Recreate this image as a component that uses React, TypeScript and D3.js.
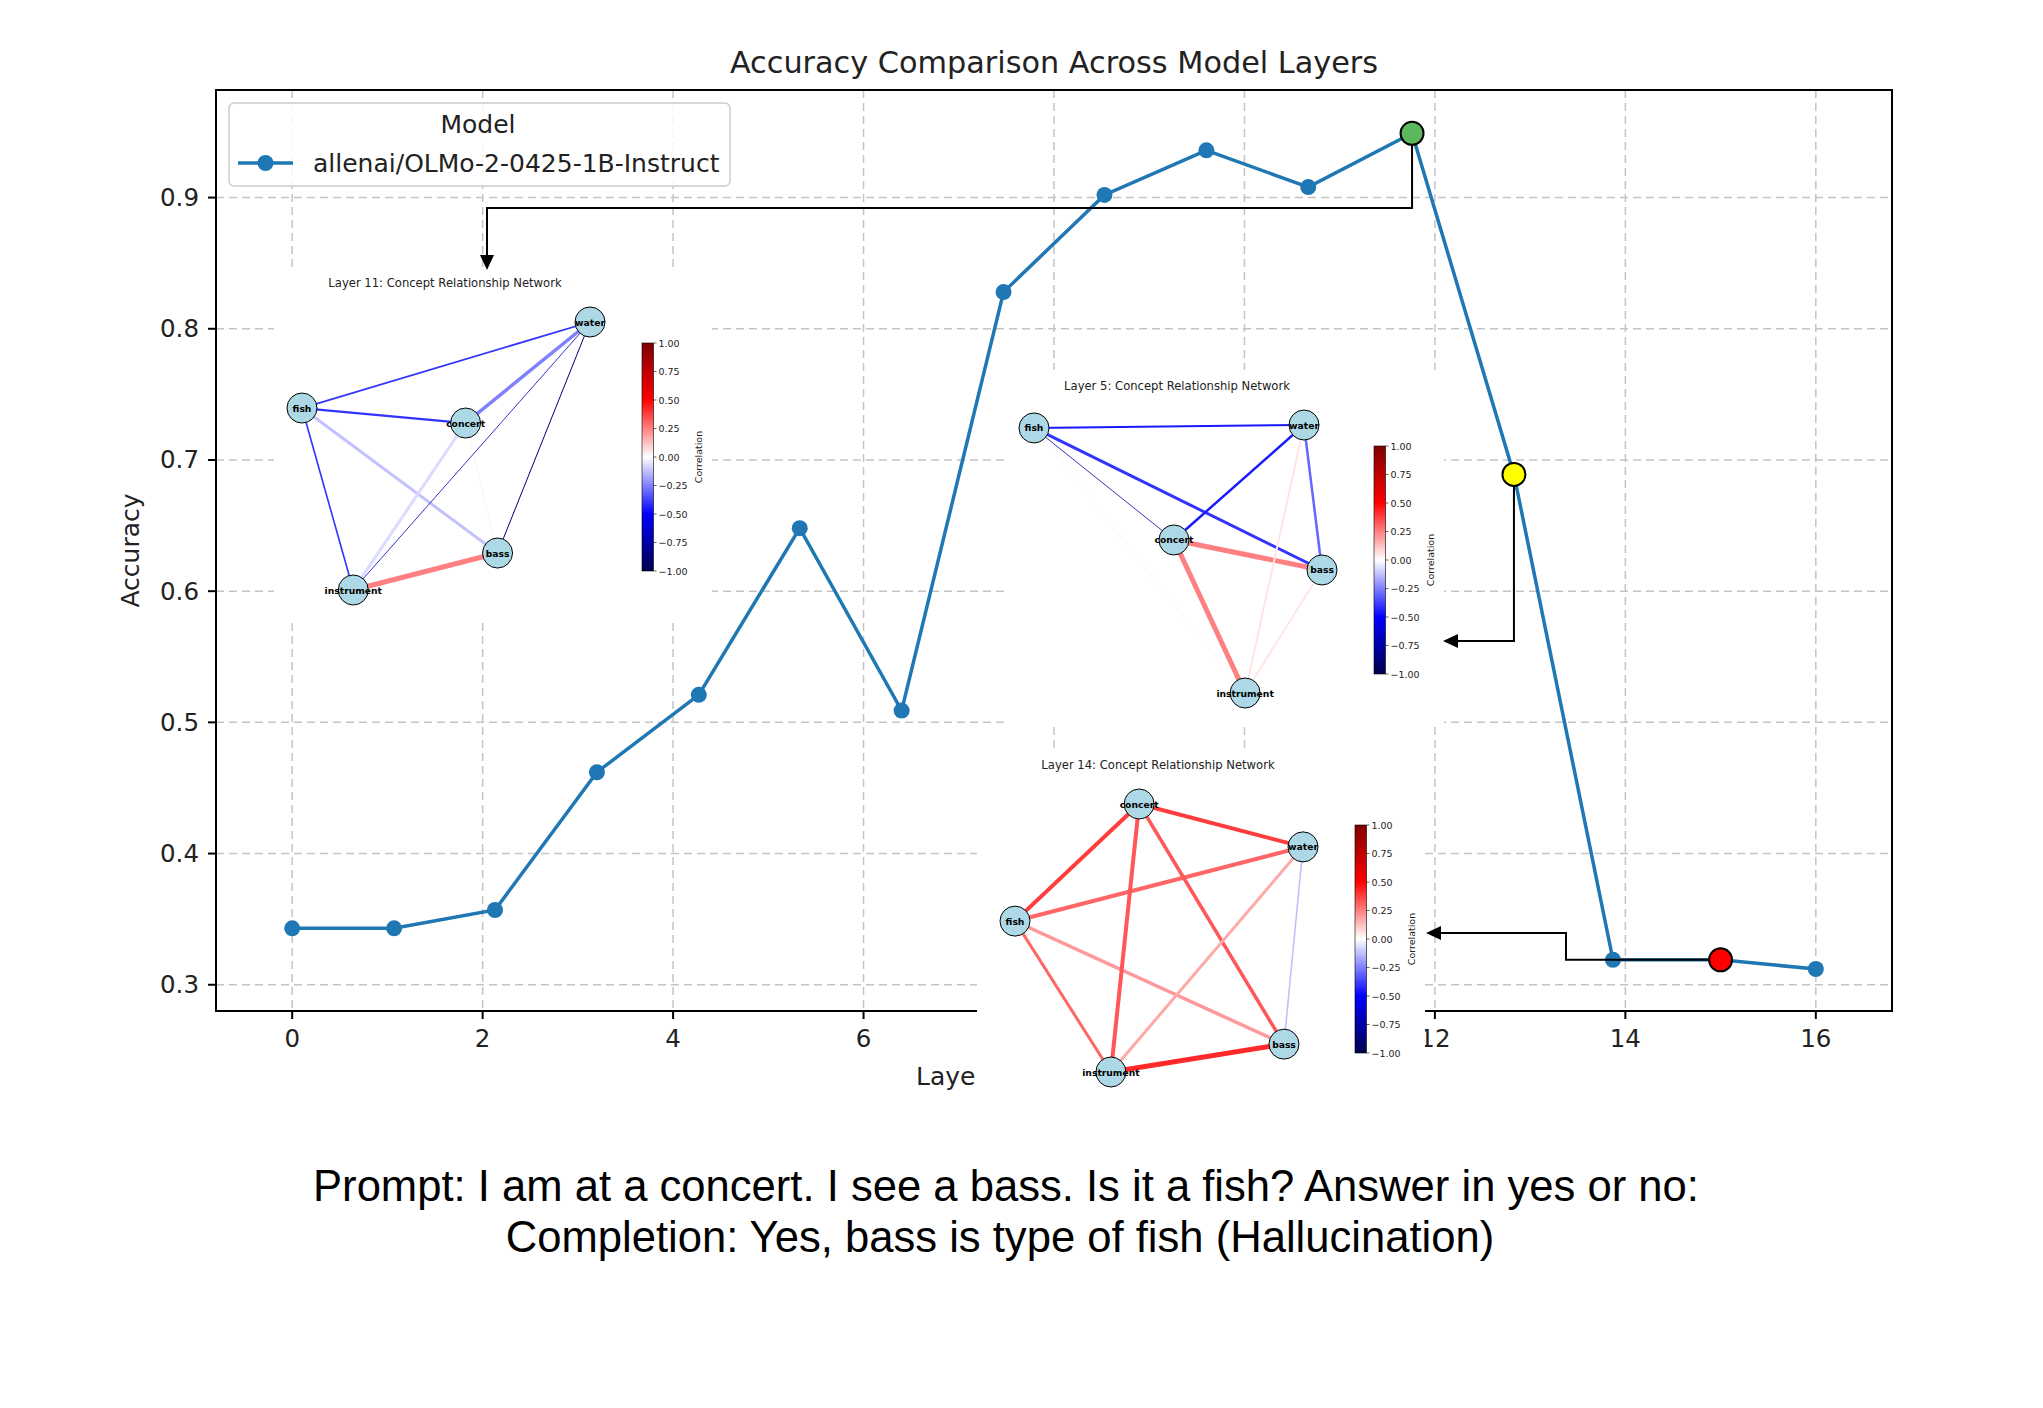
import React from 'react';
import * as d3 from 'd3';

// main line: layer position vs accuracy
const layers = [0, 1.07, 2.13, 3.2, 4.27, 5.33, 6.4, 7.47, 8.53, 9.6, 10.67, 11.76, 12.83, 13.87, 15, 16];
const accuracy = [0.343, 0.343, 0.357, 0.462, 0.521, 0.648, 0.509, 0.828, 0.902, 0.936, 0.908, 0.949, 0.689, 0.319, 0.319, 0.312];
const xTicks = [0, 2, 4, 6, 8, 10, 12, 14, 16];
const yTicks = [0.3, 0.4, 0.5, 0.6, 0.7, 0.8, 0.9];
const modelName = 'allenai/OLMo-2-0425-1B-Instruct';

// highlighted layers (index into arrays above)
const highlightIdx = [11, 12, 14];
const highlightColors = ['#5cb85c', '#ffff00', '#ff0000'];

// concept networks
const concepts = ['fish', 'concert', 'water', 'bass', 'instrument'];
const edgePairs: [string, string][] = [
    ['fish', 'concert'], ['fish', 'water'], ['fish', 'bass'], ['fish', 'instrument'],
    ['concert', 'water'], ['concert', 'bass'], ['concert', 'instrument'],
    ['water', 'bass'], ['water', 'instrument'], ['bass', 'instrument'],
];
const layer11Corr = [-0.4, -0.4, -0.12, -0.4, -0.25, 0.03, -0.07, -0.9, -0.7, 0.25];
const layer5Corr = [-0.75, -0.45, -0.4, 0.02, -0.45, 0.25, 0.25, -0.3, 0.05, 0.05];
const layer14Corr = [0.38, 0.3, 0.2, 0.3, 0.38, 0.33, 0.33, -0.13, 0.17, 0.42];
// spring-layout style positions, x/y in [0,1] (y up), order = concepts
const layer11Pos = [[0, 0.679], [0.568, 0.623], [1, 1], [0.679, 0.138], [0.178, 0]];
const layer5Pos = [[0, 0.989], [0.486, 0.571], [0.9375, 1], [1, 0.459], [0.733, 0]];
const layer14Pos = [[0, 0.563], [0.431, 1], [1, 0.84], [0.934, 0.104], [0.333, 0]];
const cbTicks = [1, 0.75, 0.5, 0.25, 0, -0.25, -0.5, -0.75, -1];

const W = 2043, H = 1408;
const M = { left: 216, right: 1892, top: 90, bottom: 1011 };
const FONT = '"DejaVu Sans", sans-serif';

const x = d3.scaleLinear().domain([-0.8, 16.8]).range([M.left, M.right]);
const y = d3.scaleLinear().domain([0.28, 0.982]).range([M.bottom, M.top]);

const seismic = d3.scaleLinear<string>()
    .domain([-1, -0.5, 0, 0.5, 1])
    .range(['#00004c', '#0000ff', '#ffffff', '#ff0000', '#7f0000']);

const fmtCb = (v: number) => (v < 0 ? '\u2212' : '') + Math.abs(v).toFixed(2);

interface InsetProps {
    id: string;
    ox: number;
    oy: number;
    padLeft: number;
    title: string;
    corr: number[];
    widths: number[];
    pos: number[][];
}

const Inset: React.FC<InsetProps> = ({ id, ox, oy, padLeft, title, corr, widths, pos }) => {
    const nx = d3.scaleLinear().domain([0, 1]).range([ox, ox + 288]);
    const ny = d3.scaleLinear().domain([0, 1]).range([oy + 268, oy]);
    const p = (name: string) => {
        const i = concepts.indexOf(name);
        return [nx(pos[i][0]), ny(pos[i][1])];
    };
    const cbX = ox + 340, cbY = oy + 21, cbW = 11.5, cbH = 228;
    const cb = d3.scaleLinear().domain([-1, 1]).range([cbY + cbH, cbY]);
    const stops = d3.range(0, 1.0001, 0.125);
    return (
        <g>
            <defs>
                <linearGradient id={id} x1="0" y1="1" x2="0" y2="0">
                    {stops.map(s => (
                        <stop key={s} offset={s} stopColor={seismic(s * 2 - 1)} />
                    ))}
                </linearGradient>
            </defs>
            <rect x={ox - padLeft} y={oy - 55} width={410 + padLeft} height={353} fill="#fff" />
            <text x={ox + 143} y={oy - 35} textAnchor="middle" fontSize={11.6} fill="#222" fontFamily={FONT}>{title}</text>
            {edgePairs.map(([a, b], i) => {
                const [x1, y1] = p(a);
                const [x2, y2] = p(b);
                return <line key={i} x1={x1} y1={y1} x2={x2} y2={y2}
                    stroke={seismic(corr[i])} strokeWidth={widths[i]} />;
            })}
            {concepts.map(c => {
                const [cx, cy] = p(c);
                return (
                    <g key={c}>
                        <circle cx={cx} cy={cy} r={15} fill="#add8e6" stroke="#000" strokeWidth={1} />
                        <text x={cx} y={cy} textAnchor="middle" dominantBaseline="central"
                            fontSize={9.2} fontWeight="bold" fontFamily={FONT}>{c}</text>
                    </g>
                );
            })}
            <rect x={cbX} y={cbY} width={cbW} height={cbH} fill={`url(#${id})`} stroke="#000" strokeWidth={0.6} />
            {cbTicks.map(t => (
                <g key={t}>
                    <line x1={cbX + cbW} x2={cbX + cbW + 3} y1={cb(t)} y2={cb(t)} stroke="#000" strokeWidth={0.6} />
                    <text x={cbX + cbW + 5} y={cb(t)} dominantBaseline="central" fontSize={9.5} fontFamily={FONT} fill="#222">{fmtCb(t)}</text>
                </g>
            ))}
            <text transform={`translate(${ox + 396},${cbY + cbH / 2}) rotate(-90)`} textAnchor="middle"
                dominantBaseline="central" fontSize={9.5} fontFamily={FONT} fill="#222">Correlation</text>
        </g>
    );
};

const Arrowhead: React.FC<{ tx: number; ty: number; dir: 'down' | 'left' }> = ({ tx, ty, dir }) => {
    const L = 15, hw = 7;
    const pts = dir === 'down'
        ? [[tx, ty], [tx - hw, ty - L], [tx + hw, ty - L]]
        : [[tx, ty], [tx + L, ty - hw], [tx + L, ty + hw]];
    return <polygon points={pts.map(q => q.join(',')).join(' ')} fill="#000" />;
};

const App: React.FC = () => {
    const pts = layers.map((l, i) => [x(l), y(accuracy[i])] as [number, number]);
    const line = d3.line<[number, number]>().x(d => d[0]).y(d => d[1]);

    const [gx, gy] = pts[highlightIdx[0]];
    const [yx, yy] = pts[highlightIdx[1]];
    const [rx, ry] = pts[highlightIdx[2]];

    return (
        <svg width={W} height={H} viewBox={`0 0 ${W} ${H}`}
            style={{ position: 'absolute', left: 0, top: 0, background: '#fff' }} fontFamily={FONT}>
            <rect width={W} height={H} fill="#fff" />
            {/* grid */}
            {xTicks.map(t => (
                <line key={'gx' + t} x1={x(t)} x2={x(t)} y1={M.top} y2={M.bottom}
                    stroke="#c4c4c4" strokeWidth={1.5} strokeDasharray="8,5" />
            ))}
            {yTicks.map(t => (
                <line key={'gy' + t} x1={M.left} x2={M.right} y1={y(t)} y2={y(t)}
                    stroke="#c4c4c4" strokeWidth={1.5} strokeDasharray="8,5" />
            ))}
            {/* spines */}
            <rect x={M.left} y={M.top} width={M.right - M.left} height={M.bottom - M.top}
                fill="none" stroke="#000" strokeWidth={2} />
            {/* ticks */}
            {xTicks.map(t => (
                <g key={'tx' + t}>
                    <line x1={x(t)} x2={x(t)} y1={M.bottom} y2={M.bottom + 8} stroke="#000" strokeWidth={2} />
                    <text x={x(t)} y={M.bottom + 36} textAnchor="middle" fontSize={24.5} fill="#222">{t}</text>
                </g>
            ))}
            {yTicks.map(t => (
                <g key={'ty' + t}>
                    <line x1={M.left - 8} x2={M.left} y1={y(t)} y2={y(t)} stroke="#000" strokeWidth={2} />
                    <text x={M.left - 17} y={y(t)} textAnchor="end" dominantBaseline="central" fontSize={24.5} fill="#222">{t.toFixed(1)}</text>
                </g>
            ))}
            <text x={916} y={1085} fontSize={25} fill="#222">Layer</text>
            <text transform={`translate(130,${(M.top + M.bottom) / 2}) rotate(-90)`} textAnchor="middle"
                dominantBaseline="central" fontSize={25} fill="#222">Accuracy</text>
            <text x={(M.left + M.right) / 2} y={73} textAnchor="middle" fontSize={30.3} fill="#222">
                Accuracy Comparison Across Model Layers
            </text>

            {/* data line */}
            <path d={line(pts) ?? ''} fill="none" stroke="#1f77b4" strokeWidth={3.5} />
            {pts.map(([px, py], i) => (
                <circle key={i} cx={px} cy={py} r={8} fill="#1f77b4" />
            ))}

            {/* legend */}
            <rect x={229} y={103} width={501} height={83} rx={5} fill="#fff" fillOpacity={0.85} stroke="#cccccc" strokeWidth={1.5} />
            <text x={478} y={133} textAnchor="middle" fontSize={25} fill="#222">Model</text>
            <line x1={238} x2={293} y1={163} y2={163} stroke="#1f77b4" strokeWidth={3.5} />
            <circle cx={265.5} cy={163} r={8} fill="#1f77b4" />
            <text x={313} y={172} fontSize={25} fill="#222">{modelName}</text>

            {/* inset networks */}
            <Inset id="cb11" ox={302} oy={322} padLeft={28} title="Layer 11: Concept Relationship Network"
                corr={layer11Corr} pos={layer11Pos} widths={[2.3, 1.8, 3, 1.6, 3.5, 1, 3, 1, 0.8, 5]} />
            <Inset id="cb5" ox={1034} oy={425} padLeft={28} title="Layer 5: Concept Relationship Network"
                corr={layer5Corr} pos={layer5Pos} widths={[0.8, 2, 3, 1, 2.5, 5, 5, 2.5, 2, 2]} />
            <Inset id="cb14" ox={1015} oy={804} padLeft={38} title="Layer 14: Concept Relationship Network"
                corr={layer14Corr} pos={layer14Pos} widths={[4, 4, 3.5, 3, 4, 3.5, 4, 1.5, 3, 5]} />

            {/* annotation arrows */}
            <g fill="none" stroke="#000" strokeWidth={2}>
                <path d={`M${gx},${gy} V208 H487 V256`} />
                <path d={`M${yx},${yy} V641 H1458`} />
                <path d={`M${rx},${ry} H1566 V933 H1441`} />
            </g>
            <Arrowhead tx={487} ty={270} dir="down" />
            <Arrowhead tx={1443} ty={641} dir="left" />
            <Arrowhead tx={1426} ty={933} dir="left" />

            {highlightIdx.map((idx, k) => (
                <circle key={'h' + idx} cx={pts[idx][0]} cy={pts[idx][1]} r={11.5}
                    fill={highlightColors[k]} stroke="#000" strokeWidth={2} />
            ))}

            {/* caption */}
            <g fontFamily='"Liberation Sans", Arial, sans-serif' fontSize={43.6} textAnchor="middle" fill="#000">
                <text x={1006} y={1201}>Prompt: I am at a concert. I see a bass. Is it a fish? Answer in yes or no:</text>
                <text x={1000} y={1252}>Completion: Yes, bass is type of fish (Hallucination)</text>
            </g>
        </svg>
    );
};

export default App;
